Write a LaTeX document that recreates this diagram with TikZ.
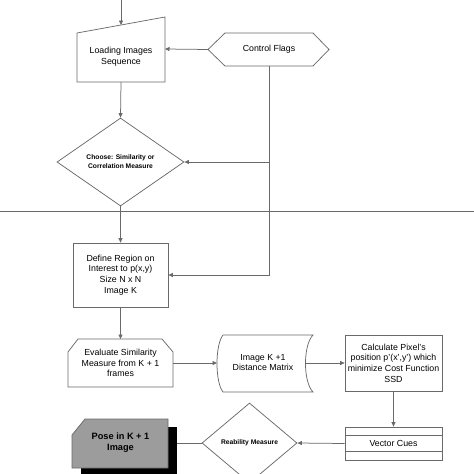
\documentclass[tikz,border=0pt]{standalone}
\usepackage{fontspec}
\setmainfont{Liberation Sans}
\usetikzlibrary{shapes.geometric,arrows.meta}
\definecolor{ln}{HTML}{6A6A6A}
\definecolor{posefill}{HTML}{9C9C9C}
\begin{document}
\begin{tikzpicture}[x=1pt,y=-1pt,
  line/.style={draw=ln, line width=0.75pt},
  arr/.style={line, -{Triangle[length=4.5pt,width=4pt]}},
  txt/.style={font=\fontsize{8.8}{10.6}\selectfont, align=center, inner sep=0pt},
  btxt/.style={font=\bfseries\fontsize{6.7}{9}\selectfont, align=center, inner sep=0pt},
  pbtxt/.style={font=\bfseries\fontsize{9.2}{11}\selectfont, align=center, inner sep=0pt},
  rbox/.style={line, rectangle, inner sep=0pt, font=\fontsize{8.8}{10.6}\selectfont, align=center},
  dia/.style={line, diamond, inner sep=0pt}]
\useasboundingbox (0,0) rectangle (474,474);

% separator
\coordinate (sepL) at (0,211);
\coordinate (sepR) at (474,211);
\draw[line] (sepL) -- (sepR);

% Loading Images Sequence (manual input)
\draw[line] (77,33) -- (165,17) -- (165,82) -- (77,82) -- cycle;
\node[txt] (load) at (121,57) {Loading Images\\Sequence};
\coordinate (loadTop) at (121,25);
\coordinate (loadE) at (165,49);
\coordinate (loadS) at (121,82);
\coordinate (topstart) at (121,0);
\draw[arr] (topstart) -- (loadTop);

% Control Flags (hexagon)
\draw[line] (208,49.5) -- (225,33) -- (313,33) -- (329,49.5) -- (313,66) -- (225,66) -- cycle;
\node[txt] (cf) at (269,49.5) {Control Flags};
\coordinate (cfW) at (208,49.5);
\coordinate (cfS) at (269,66);
\draw[arr] (cfW) -- (loadE);

% Choose diamond
\node[dia, minimum width=127pt, minimum height=88pt, aspect=1.44] (choose) at (120.5,162) {};
\node[btxt] (chooseT) at (120.5,161.5) {Choose: Similarity or\\Correlation Measure};
\draw[arr] (loadS) -- (choose.north);
\draw[arr] (cfS) |- (choose.east);

% Define Region
\node[rbox, minimum width=95pt, minimum height=64pt] (def) at (120.5,275) {Define Region on\\Interest to p(x,y)\\Size N x N\\Image K};
\draw[arr] (choose.south) -- (def.north);
\draw[arr] (cfS) |- (def.east);

% Evaluate Similarity (chamfered top)
\draw[line] (78,339) -- (162,339) -- (173,352) -- (173,387) -- (68,387) -- (68,352) -- cycle;
\node[txt] (eval) at (120.5,363) {Evaluate Similarity\\Measure from K + 1\\frames};
\coordinate (evalN) at (120.5,339);
\coordinate (evalE) at (173,363);
\draw[arr] (def.south) -- (evalN);

% Image K+1 Distance Matrix (stored data)
\draw[line] (223,335) -- (313,335) .. controls (303,345) and (303,382) .. (313,392)
  -- (223,392) .. controls (215,382) and (215,345) .. (223,335);
\node[txt] (img) at (263,362.5) {Image K +1\\Distance Matrix};
\coordinate (imgW) at (217,363);
\coordinate (imgE) at (305.5,363);
\draw[arr] (evalE) -- (imgW);

% Calculate
\node[rbox, minimum width=97pt, minimum height=56pt] (calc) at (393.5,363) {Calculate Pixel's\\position p'(x',y') which\\minimize Cost Function\\SSD};
\draw[arr] (imgE) -- (calc.west);

% Vector Cues
\node[rbox, minimum width=97pt, minimum height=33pt] (vec) at (393.5,443.5) {Vector Cues};
\draw[line] (345,435.5) -- (442,435.5);
\draw[line] (345,451.5) -- (442,451.5);
\draw[arr] (calc.south) -- (vec.north);

% Reability diamond
\node[dia, minimum width=95pt, minimum height=80pt, aspect=1.2] (reab) at (249.5,443) {};
\node[btxt] (reabT) at (249.5,443) {Reability Measure};
\draw[arr] (vec.west) -- (reab.east);

% Pose in K+1 Image (with shadow)
\fill[black] (81,427) rectangle (177,480);
\draw[line, fill=posefill] (85,419) -- (168,419) -- (168,468) -- (72,468) -- (72,435) -- cycle;
\node[pbtxt] (pose) at (120.5,442.5) {Pose in K + 1\\Image};
\coordinate (poseE) at (177,443);
\draw[line] (reab.west) -- (poseE);
\end{tikzpicture}
\end{document}
